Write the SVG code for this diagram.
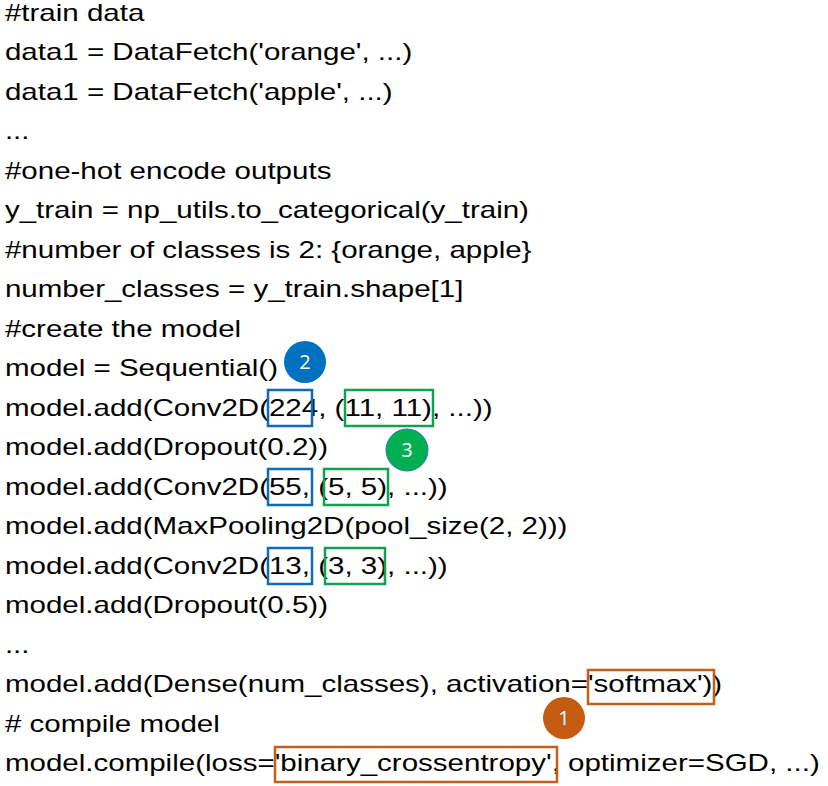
<svg xmlns="http://www.w3.org/2000/svg" width="828" height="786" viewBox="0 0 828 786">
<style>
text{font-family:"Liberation Sans",Arial,sans-serif;font-size:24px;fill:#000}
.b{fill:none;stroke:#0F6BB5;stroke-width:2.5}
.g{fill:none;stroke:#12A14F;stroke-width:2.5}
.o{fill:none;stroke:#C0601C;stroke-width:2.5}
.n{font-family:"Open Sans","Liberation Sans",sans-serif;font-size:20px;fill:#fff;text-anchor:middle}
</style>
<rect width="828" height="786" fill="#fff"/>
<g id="code" transform="scale(1.23,1)">
<text x="4" y="21">#train data</text>
<text x="4" y="60">data1 = DataFetch('orange', ...)</text>
<text x="4" y="100">data1 = DataFetch('apple', ...)</text>
<text x="4" y="139">...</text>
<text x="4" y="179">#one-hot encode outputs</text>
<text x="4" y="218">y_train = np_utils.to_categorical(y_train)</text>
<text x="4" y="258">#number of classes is 2: {orange, apple}</text>
<text x="4" y="297">number_classes = y_train.shape[1]</text>
<text x="4" y="337">#create the model</text>
<text x="4" y="376">model = Sequential()</text>
<text x="4" y="416">model.add(Conv2D(224, (11, 11), ...))</text>
<text x="4" y="455">model.add(Dropout(0.2))</text>
<text x="4" y="495">model.add(Conv2D(55, (5, 5), ...))</text>
<text x="4" y="534">model.add(MaxPooling2D(pool_size(2, 2)))</text>
<text x="4" y="574">model.add(Conv2D(13, (3, 3), ...))</text>
<text x="4" y="613">model.add(Dropout(0.5))</text>
<text x="4" y="653">...</text>
<text x="4" y="692">model.add(Dense(num_classes), activation='softmax'))</text>
<text x="4" y="732"># compile model</text>
<text x="4" y="771">model.compile(loss='binary_crossentropy', optimizer=SGD, ...)</text>
</g>
<g id="boxes">
<rect class="b" x="268" y="390" width="44" height="36"/>
<rect class="g" x="345" y="390" width="88" height="36"/>
<rect class="b" x="268" y="469" width="44" height="36"/>
<rect class="g" x="324" y="469" width="64" height="36"/>
<rect class="b" x="268" y="548" width="44" height="36"/>
<rect class="g" x="325" y="548" width="60" height="36"/>
<rect class="o" x="588" y="670" width="126" height="34"/>
<rect class="o" x="275" y="747" width="282" height="35"/>
</g>
<g id="badge2"><circle cx="305" cy="362" r="21" fill="#0070C0"/><text class="n" x="305" y="369">2</text></g>
<g id="badge3"><circle cx="407" cy="450" r="21" fill="#00B050" stroke="#2E75B6" stroke-width="1"/><text class="n" x="407" y="457">3</text></g>
<g id="badge1"><circle cx="564" cy="718" r="21" fill="#C55A11"/><text class="n" x="564" y="725">1</text></g>
</svg>
